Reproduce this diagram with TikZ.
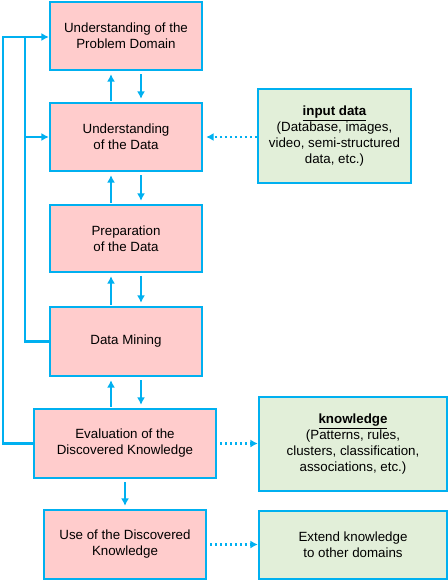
\documentclass[tikz,border=0pt]{standalone}
\usepackage{fontspec}
\setmainfont{Liberation Sans}
\usetikzlibrary{arrows.meta,positioning}
\definecolor{bluel}{HTML}{00B0F0}
\definecolor{pinkf}{HTML}{FFCCCC}
\definecolor{greenf}{HTML}{E2EFD9}
\begin{document}
\begin{tikzpicture}[x=0.75pt,y=-0.75pt,
  font=\fontsize{10pt}{12pt}\selectfont,
  pbox/.style={draw=bluel,line width=1.8pt,fill=pinkf,align=center,inner sep=2pt},
  gbox/.style={draw=bluel,line width=1.8pt,fill=greenf,align=center,inner sep=2pt},
  arr/.style={draw=bluel,line width=1.7pt,-{Latex[length=5.5pt,width=6pt]}},
  darr/.style={draw=bluel,line width=1.7pt,dotted,-{Latex[length=5.5pt,width=6pt]}}]
\useasboundingbox (0,0) rectangle (448,581);
\node[pbox,minimum width=114pt,minimum height=51pt] (b1) at (126,36) {Understanding of the\\Problem Domain};
\node[pbox,minimum width=114pt,minimum height=51pt] (b2) at (126,137) {Understanding\\of the Data};
\node[pbox,minimum width=114pt,minimum height=50.25pt] (b3) at (126,238.5) {Preparation\\of the Data};
\node[pbox,minimum width=114pt,minimum height=51.75pt] (b4) at (126,341.5) {Data Mining};
\node[pbox,minimum width=136.5pt,minimum height=51.75pt] (b5) at (125,443.5) {Evaluation of the\\Discovered Knowledge};
\node[pbox,minimum width=121.5pt,minimum height=51.75pt] (b6) at (125,544.5) {Use of the Discovered\\Knowledge};
\node[gbox,minimum width=114.75pt,minimum height=70.5pt] (g1) at (334.5,136) {\textbf{\underline{input data}}\\(Database, images,\\video, semi-structured\\data, etc.)};
\node[gbox,minimum width=141pt,minimum height=70.5pt] (g2) at (353,444) {\textbf{\underline{knowledge}}\\(Patterns, rules,\\clusters, classification,\\associations, etc.)};
\node[gbox,minimum width=141pt,minimum height=51pt] (g3) at (353,545) {Extend knowledge\\to other domains};
\coordinate (ux) at (111,0);
\coordinate (dx) at (141,0);
\foreach \ua/\ub in {b1/b2,b2/b3,b3/b4,b4/b5}{
  \draw[arr,shorten <=0.75pt,shorten >=2.25pt] (\ub.north -| ux) -- (\ua.south -| ux);
  \draw[arr,shorten <=2.25pt,shorten >=2.25pt] (\ua.south -| dx) -- (\ub.north -| dx);
}
\draw[arr,shorten <=2.25pt,shorten >=2.25pt] (b5.south) -- (b6.north);
\coordinate (ox) at (3,0);
\coordinate (ix) at (25,0);
\coordinate (ty) at (0,37);
\draw[arr] (b5.west) -- (b5.west -| ox) -- (ox |- ty) -- (b1.west |- ty);
\draw[bluel,line width=1.7pt] (b4.west) -- (b4.west -| ix) -- (ix |- ty);
\draw[arr] (ix |- b2.west) -- (b2.west);
\draw[darr,shorten >=2.25pt] (g1.west |- b2.east) -- (b2.east);
\draw[darr,shorten <=2.25pt] (b5.east) -- (g2.west |- b5.east);
\draw[darr,shorten <=2.25pt] (b6.east) -- (g3.west |- b6.east);
\end{tikzpicture}
\end{document}
